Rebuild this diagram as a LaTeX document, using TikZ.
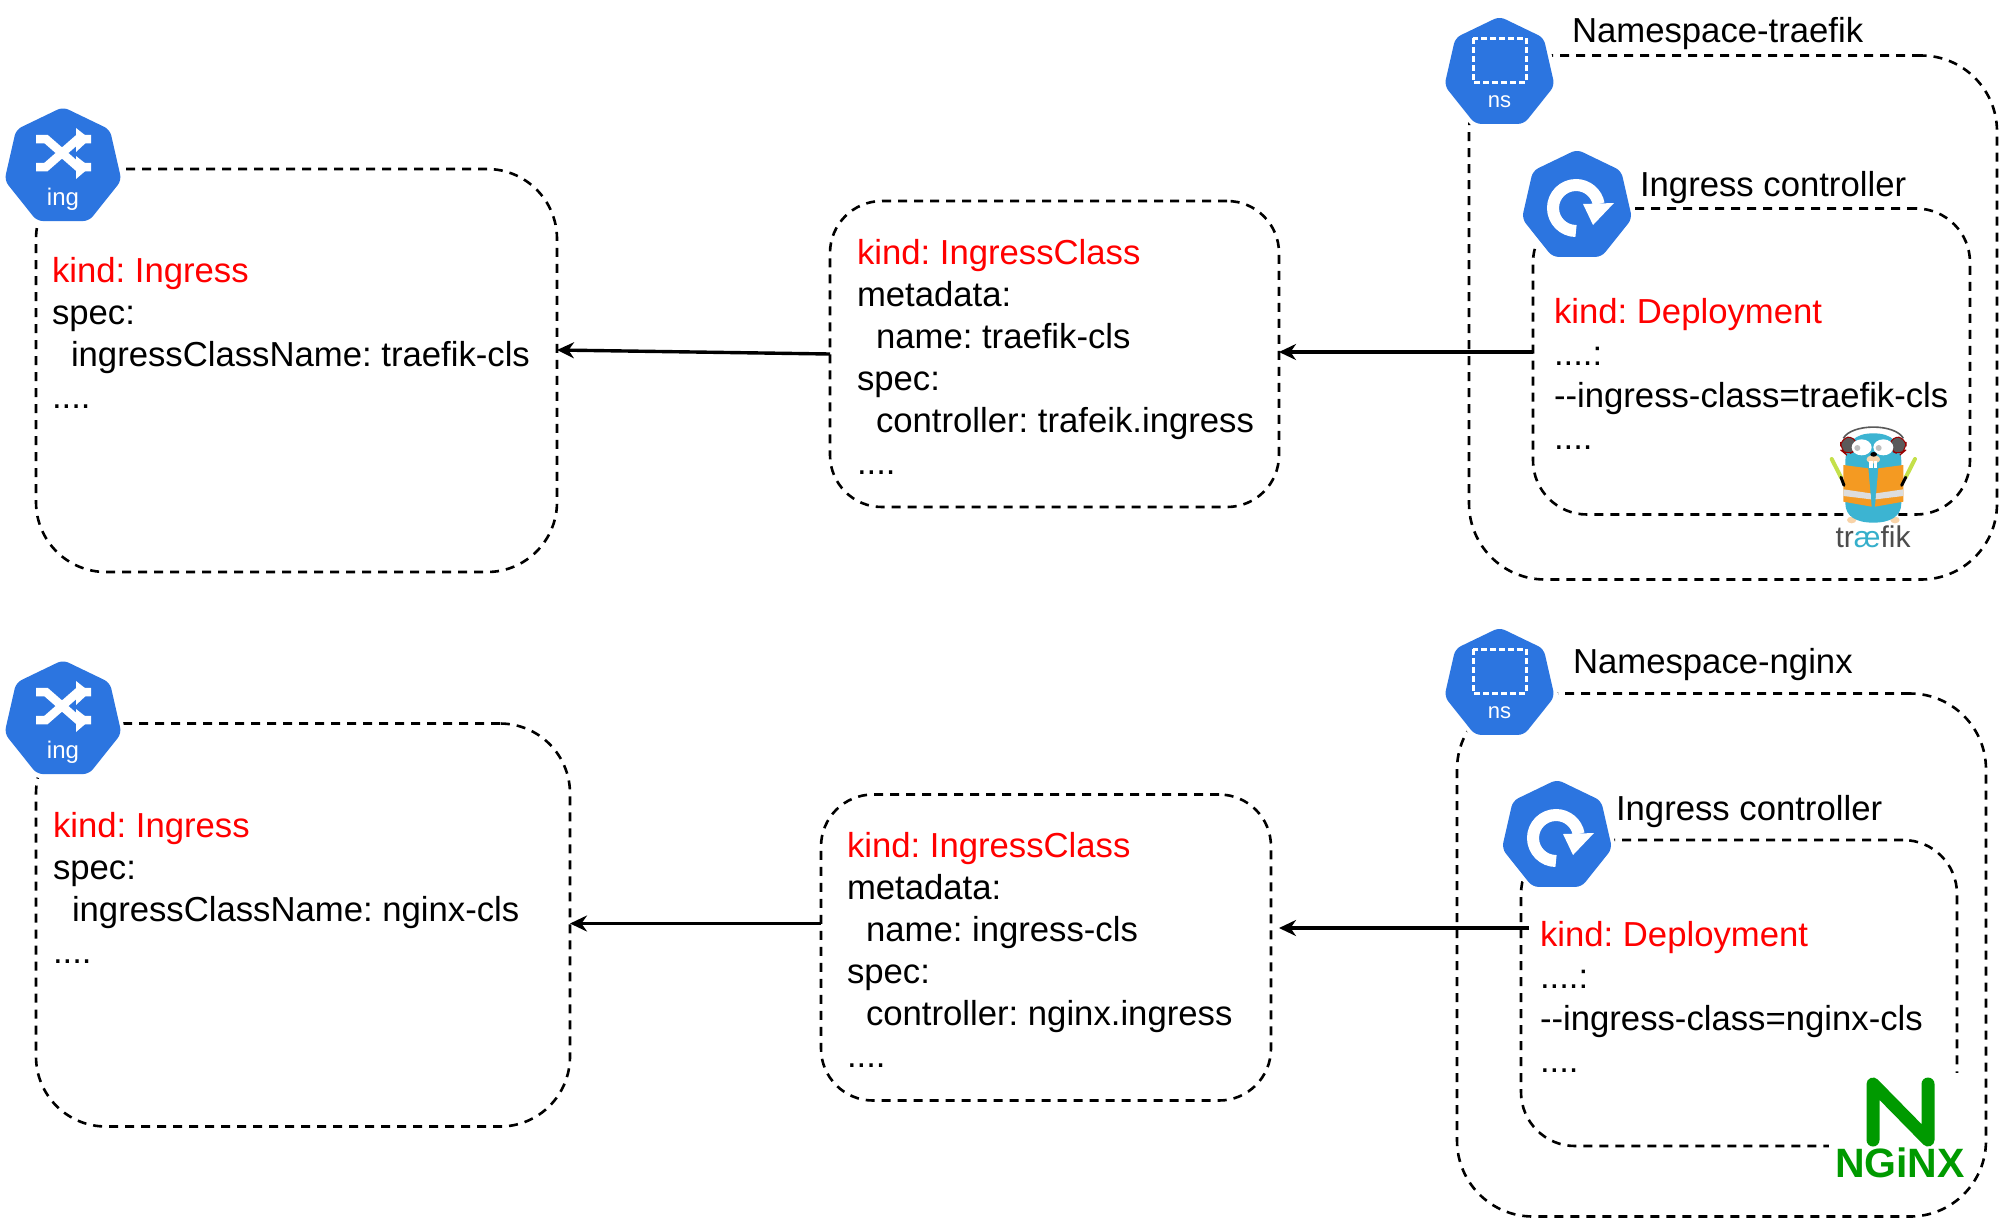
\documentclass[tikz,border=0pt]{standalone}
\usepackage{fontspec}
\setmainfont{Liberation Sans}
\frenchspacing
\usetikzlibrary{shapes.geometric,arrows.meta}
\definecolor{kblue}{HTML}{2C75E0}
\definecolor{kindred}{HTML}{FF0000}
\definecolor{nggreen}{HTML}{009A00}
\definecolor{gobody}{HTML}{3CB4D2}
\definecolor{govest}{HTML}{F49A22}
\definecolor{gogray}{HTML}{5A5A5A}
\definecolor{gostripe}{HTML}{DDDDDD}
\definecolor{goteal}{HTML}{35AFCB}
\definecolor{gostick}{HTML}{C4E04A}
\definecolor{goskin}{HTML}{F8D3A8}
\newcommand{\kindline}[1]{\textcolor{kindred}{#1}}
\newcommand{\ind}{\hspace*{19pt}}
\tikzset{
  x=1pt,y=-1pt,
  dbox/.style={draw=black,line width=2.6pt,dash pattern=on 9pt off 7pt,rounded corners=#1,minimum width=0pt,inner sep=0pt,outer sep=0pt},
  code/.style={anchor=north west,inner sep=0pt,outer sep=0pt,align=left,font=\fontsize{34.7}{42}\selectfont},
  lbl/.style={anchor=west,inner sep=0pt,outer sep=0pt,font=\fontsize{34.7}{42}\selectfont},
  halo/.style={regular polygon,regular polygon sides=7,fill=white,draw=none,minimum size=2*#1+9pt,inner sep=0pt,outer sep=0pt,rounded corners=6pt},
  hept/.style={regular polygon,regular polygon sides=7,fill=kblue,draw=none,minimum size=2*#1,inner sep=0pt,outer sep=0pt,rounded corners=6pt},
  itxt/.style={text=white,inner sep=0pt,outer sep=0pt},
  flow/.style={draw=black,line width=3.4pt,-{Stealth[length=17pt,width=16pt]}},
  glyph/.style={draw=white,line width=8.5pt},
  tip/.style={fill=white,draw=none},
}
\begin{document}
\begin{tikzpicture}
\useasboundingbox (0,0) rectangle (1999,1219);
\fill[white] (0,0) rectangle (1999,1219);

% dashed containers
\node[dbox=70pt,minimum width=521pt,minimum height=403pt] (b1) at (296.5,370.5) {};
\node[dbox=52pt,minimum width=449pt,minimum height=306pt] (m1) at (1054.5,354) {};
\node[dbox=76pt,minimum width=528pt,minimum height=524pt] (n1) at (1733,317.5) {};
\node[dbox=54pt,minimum width=437pt,minimum height=306pt] (c1) at (1751.5,361.5) {};
\node[dbox=70pt,minimum width=534pt,minimum height=403pt] (b2) at (303,925) {};
\node[dbox=52pt,minimum width=450pt,minimum height=306pt] (m2) at (1046,947.5) {};
\node[dbox=76pt,minimum width=529pt,minimum height=523pt] (n2) at (1721.5,955) {};
\node[dbox=54pt,minimum width=436pt,minimum height=306pt] (c2) at (1739,993) {};

% connectors
\draw[flow] (m1.west) -- ([yshift=20.5pt]b1.east);
\draw[flow] ([yshift=9.5pt]c1.west) -- ([yshift=2pt]m1.east);
\draw[flow] ([yshift=24pt]m2.west) -- ([yshift=1.5pt]b2.east);
\draw[flow] ([xshift=8pt,yshift=65pt]c2.west) -- ([xshift=8pt,yshift=19.5pt]m2.east);

% code
\node[code] (t1) at (52,257.5) {\kindline{kind: Ingress}\\spec:\\\ind ingressClassName: traefik-cls\\....};
\node[code] (t2) at (857,239) {\kindline{kind: IngressClass}\\metadata:\\\ind name: traefik-cls\\spec:\\\ind controller: trafeik.ingress\\....};
\node[code] (t3) at (1554,298.5) {\kindline{kind: Deployment}\\....:\\-{}-ingress-class=traefik-cls\\....};
\node[code] (t4) at (53,812) {\kindline{kind: Ingress}\\spec:\\\ind ingressClassName: nginx-cls\\....};
\node[code] (t5) at (847,832) {\kindline{kind: IngressClass}\\metadata:\\\ind name: ingress-cls\\spec:\\\ind controller: nginx.ingress\\....};
\node[code] (t6) at (1540,921) {\kindline{kind: Deployment}\\....:\\-{}-ingress-class=nginx-cls\\....};

% labels
\node[lbl] (l1) at (1572,34) {Namespace-traefik};
\node[lbl] (l2) at (1640,188) {Ingress controller};
\node[lbl] (l3) at (1573,665) {Namespace-nginx};
\node[lbl] (l4) at (1616,812) {Ingress controller};

% ing icon 1
\node[halo=60pt] at (63,167) {};
\node[hept=60pt] (i1) at (63,167) {};
\node[itxt,font=\fontsize{24}{24}\selectfont] (i1t) at (63,199) {ing};
\begin{scope}[shift={(i1.center)}]
\draw[glyph] (-27,-28) -- (-17,-28) -- (15,0) -- (28,0);
\draw[glyph] (-27,0) -- (-17,0) -- (15,-28) -- (28,-28);
\fill[tip] (13,-39) -- (27,-28) -- (13,-15) -- cycle;
\fill[tip] (13,-11) -- (27,0) -- (13,12) -- cycle;
\end{scope}

% ing icon 2
\node[halo=60pt] at (63,720) {};
\node[hept=60pt] (i2) at (63,720) {};
\node[itxt,font=\fontsize{24}{24}\selectfont] (i2t) at (63,752) {ing};
\begin{scope}[shift={(i2.center)}]
\draw[glyph] (-27,-28) -- (-17,-28) -- (15,0) -- (28,0);
\draw[glyph] (-27,0) -- (-17,0) -- (15,-28) -- (28,-28);
\fill[tip] (13,-39) -- (27,-28) -- (13,-15) -- cycle;
\fill[tip] (13,-11) -- (27,0) -- (13,12) -- cycle;
\end{scope}

% ns icons
\node[halo=56.5pt] at (1499.5,73) {};
\node[hept=56.5pt] (s1) at (1499.5,73) {};
\draw[white,line width=3pt,dash pattern=on 6pt off 3pt] (1473,38) rectangle (1526,82);
\node[itxt,font=\fontsize{22}{22}\selectfont] (s1t) at (1499.5,102) {ns};
\node[halo=56.5pt] at (1499.5,684) {};
\node[hept=56.5pt] (s2) at (1499.5,684) {};
\draw[white,line width=3pt,dash pattern=on 6pt off 3pt] (1473,649) rectangle (1526,693);
\node[itxt,font=\fontsize{22}{22}\selectfont] (s2t) at (1499.5,713) {ns};

% controller icons
\node[halo=56.5pt] at (1577,206) {};
\node[hept=56.5pt] (k1) at (1577,206) {};
\draw[draw=white,line width=12pt] (1576,231) arc[start angle=270,end angle=10,radius=23pt];
\fill[tip] (1583,204) -- (1614,203) -- (1593,225) -- cycle;
\node[halo=56.5pt] at (1557,836) {};
\node[hept=56.5pt] (k2) at (1557,836) {};
\draw[draw=white,line width=12pt] (1556,861) arc[start angle=270,end angle=10,radius=23pt];
\fill[tip] (1563,834) -- (1594,833) -- (1573,855) -- cycle;

% traefik logo
\begin{scope}[shift={(1780,400)},x=0.3333pt,y=-0.3333pt]
\draw[gostick,line width=4pt,line cap=round] (155,177) -- (183,232);
\draw[gostick,line width=4pt,line cap=round] (405,177) -- (377,232);
\fill[goskin] (215,360) ellipse [x radius=14,y radius=10];
\fill[goskin] (345,360) ellipse [x radius=14,y radius=10];
\fill[gobody] (196,190) .. controls (196,125) and (225,100) .. (280,100) .. controls (335,100) and (364,125) .. (364,190) -- (364,310) .. controls (364,350) and (330,368) .. (280,368) .. controls (230,368) and (196,350) .. (196,310) -- cycle;
\fill[govest] (190,195) -- (265,205) -- (275,320) -- (190,305) -- cycle;
\fill[govest] (370,195) -- (295,205) -- (285,320) -- (370,305) -- cycle;
\fill[gostripe] (190,268) -- (272,280) -- (273,298) -- (190,288) -- cycle;
\fill[gostripe] (370,268) -- (288,280) -- (287,298) -- (370,288) -- cycle;
\draw[gray!70!black,line width=1.6pt] (190,115) .. controls (215,70) and (345,70) .. (370,115);
\fill[gogray,draw=red!60!black,line width=1pt,rounded corners=8pt] (182,115) -- (225,108) -- (232,150) -- (200,165) -- (182,150) -- cycle;
\fill[gogray,draw=red!60!black,line width=1pt,rounded corners=8pt] (378,115) -- (335,108) -- (328,150) -- (360,165) -- (378,150) -- cycle;
\fill[white] (245,142) ellipse [x radius=30,y radius=24];
\fill[white] (310,142) ellipse [x radius=30,y radius=24];
\fill[gray!50] (232,144) circle [radius=9];
\fill[gray!50] (296,144) circle [radius=9];
\fill[goskin] (280,178) ellipse [x radius=20,y radius=12];
\fill[white] (268,182) rectangle (279,204);
\fill[white] (281,182) rectangle (292,204);
\fill[black] (281,163) ellipse [x radius=10,y radius=7];
\draw[black,line width=3pt,line cap=round] (183,232) -- (192,256);
\draw[black,line width=3pt,line cap=round] (377,232) -- (365,256);
\end{scope}
\node[inner sep=0pt,outer sep=0pt,font=\fontsize{30}{30}\selectfont,text=gray!60!black] (tr) at (1873,537) {tr\textcolor{goteal}{æ}fik};

% nginx logo
\fill[white] (1829,1073) rectangle (1970,1180);
\draw[nggreen,line width=13pt,line cap=round,line join=round] (1873,1140) -- (1873,1084) -- (1928,1140) -- (1928,1084);
\node[inner sep=0pt,outer sep=0pt,font=\fontsize{41}{41}\selectfont\bfseries,text=nggreen] (ng) at (1900,1163) {NGiNX};
\end{tikzpicture}
\end{document}
